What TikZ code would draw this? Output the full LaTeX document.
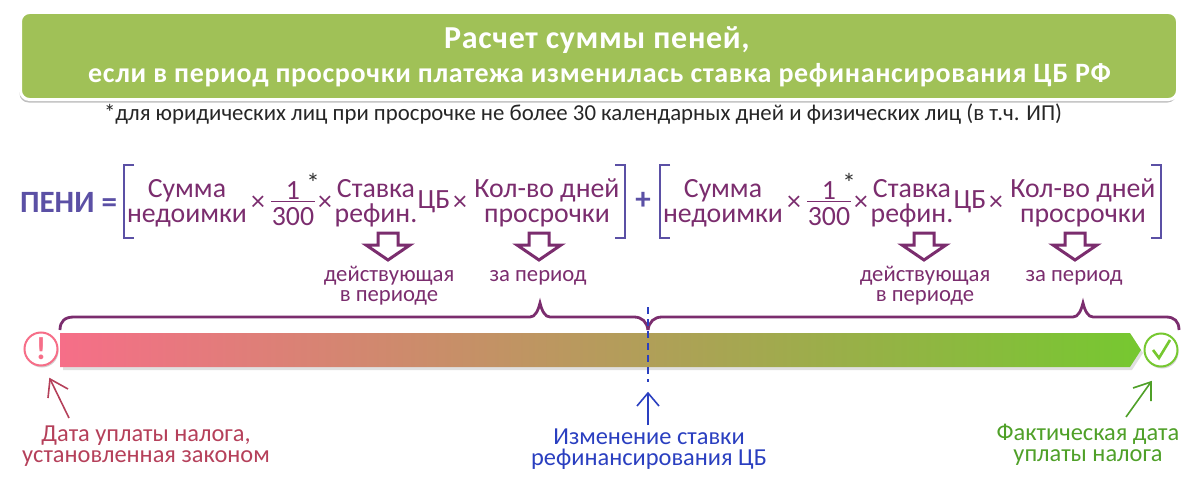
\documentclass[tikz,border=0pt]{standalone}
\usepackage{fontspec}
\setmainfont{Carlito}
\usetikzlibrary{shadows}
\definecolor{titlegreen}{RGB}{160,193,87}
\definecolor{formulapurple}{RGB}{123,45,110}
\definecolor{bracketblue}{RGB}{91,80,165}
\definecolor{startred}{RGB}{181,64,90}
\definecolor{changeblue}{RGB}{42,63,192}
\definecolor{endgreen}{RGB}{79,160,40}
\definecolor{barpink}{RGB}{246,110,136}
\definecolor{bargreen}{RGB}{118,200,48}
\tikzset{
  titleline/.style={text=white, inner sep=0pt},
  formula/.style={text=formulapurple, inner sep=0pt, align=center, font=\fontsize{27.8}{25}\selectfont},
  notetext/.style={text=formulapurple, inner sep=0pt, align=center, font=\fontsize{22.7}{20}\selectfont},
  datetext/.style={inner sep=0pt, align=center, font=\fontsize{24.4}{21.5}\selectfont},
  bracket/.style={draw=bracketblue, line width=1.8pt},
  bracelong/.style={draw=formulapurple, line width=2.8pt},
  downarrow/.style={draw=formulapurple, line width=3pt, fill=white, line join=miter},
  thinarrow/.style={line width=1.6pt},
  markcircle/.style={circle, fill=white, line width=2pt, minimum size=33pt, inner sep=0pt, drop shadow={opacity=0.35, shadow xshift=1pt, shadow yshift=-2pt}}
}
\begin{document}
\begin{tikzpicture}[x=1pt, y=-1pt]
  \useasboundingbox (0,0) rectangle (1200,487);

  % Заголовок
  \node[draw=white, line width=3pt, fill=titlegreen, rounded corners=9pt, minimum width=1157pt, minimum height=87pt,
        drop shadow={opacity=0.5, shadow xshift=-1pt, shadow yshift=-3pt}] (titlebox) at (599,56) {};
  \node[titleline, font=\fontsize{32}{32}\selectfont\bfseries\addfontfeature{LetterSpace=2.2}] (titleone) at (597,40) {Расчет суммы пеней,};
  \node[titleline, font=\fontsize{28}{28}\selectfont\bfseries\addfontfeature{LetterSpace=2.4}] (titletwo) at (599.5,75)
    {если в период просрочки платежа изменилась ставка рефинансирования ЦБ РФ};
  \node[text=black!85, inner sep=0pt, font=\fontsize{22.8}{22}\selectfont] (footnote) at (583,114)
    {*для юридических лиц при просрочке не более 30 календарных дней и физических лиц (в т.ч. ИП)};

  % Формула
  \node[text=bracketblue, inner sep=0pt, font=\fontsize{31}{31}\selectfont\bfseries] (peni) at (68.5,202) {ПЕНИ =};
  \node[text=bracketblue, inner sep=0pt, font=\fontsize{31}{31}\selectfont\bfseries] (plus) at (643,201) {+};

  \foreach \part/\dx in {a/0, b/536} {
    \begin{scope}[xshift=\dx pt]
      \draw[bracket] (134,165) -- (124,165) -- (124,238) -- (134,238);
      \draw[bracket] (615,165) -- (625,165) -- (625,238) -- (615,238);
      \node[formula] (summa\part) at (187,203) {Сумма\\недоимки};
      \node[formula] (timesa\part) at (258,203) {×};
      \node[formula] (one\part) at (293,191) {1};
      \node[formula] (hundreds\part) at (293,217) {300};
      \draw[formulapurple, line width=1.2pt] (271,201.5) -- (315,201.5);
      \node[text=black!80, inner sep=0pt, font=\fontsize{27}{27}\selectfont] (star\part) at (313,183) {*};
      \node[formula] (timesb\part) at (325,203) {×};
      \node[formula] (rate\part) at (376,203) {Ставка\\рефин.};
      \node[formula] (cb\part) at (434,202) {ЦБ};
      \node[formula] (timesc\part) at (460,203) {×};
      \node[formula] (days\part) at (547,203) {Кол-во дней\\просрочки};

      % Стрелки вниз
      \foreach \x in {388, 539} {
        \draw[downarrow] (\x-10,233) -- (\x+10,233) -- (\x+10,245) -- (\x+22,245) -- (\x,260) -- (\x-22,245) -- (\x-10,245) -- cycle;
      }
      \node[notetext] (ratenote\part) at (389,286) {действующая\\в периоде};
      \node[notetext] (daysnote\part) at (538,278) {за период};
    \end{scope}
  }

  % Фигурные скобки
  \draw[bracelong] (60,330) .. controls (60,321) and (65,317) .. (74,317) -- (530,317)
    .. controls (535,317) and (538,311) .. (540,303) .. controls (542,311) and (545,317) .. (550,317) -- (634,317)
    .. controls (642,317) and (647,322) .. (648,330);
  \draw[bracelong] (648,330) .. controls (649,322) and (654,317) .. (662,317) -- (1073,317)
    .. controls (1078,317) and (1081,311) .. (1083,303) .. controls (1085,311) and (1088,317) .. (1093,317) -- (1166,317)
    .. controls (1174,317) and (1179,321) .. (1179,330);

  % Шкала
  \fill[black, opacity=0.12] (63,336) -- (1132,336) -- (1143,353) -- (1132,370) -- (63,370) -- cycle;
  \shade[left color=barpink, right color=bargreen]
    (60,333) -- (1130,333) -- (1141,350) -- (1130,367) -- (60,367) -- cycle;

  \node[markcircle, draw=barpink, text=barpink, font=\fontsize{32}{32}\selectfont\bfseries] (startmark) at (41,349) {!};
  \node[markcircle, draw=bargreen] (endmark) at (1161,350) {};
  \draw[bargreen, line width=2.6pt] (1153,350) -- (1159,358) -- (1170,340);

  % Смена ставки
  \coordinate (changetop) at (648,307);
  \coordinate (changebot) at (648,382);
  \draw[changeblue, line width=1.6pt, dash pattern=on 7pt off 5pt] (changetop) -- (changebot);

  % Подписи дат
  \node[datetext, text=startred] (startlabel) at (146,446) {Дата уплаты налога,\\установленная законом};
  \node[datetext, text=changeblue] (changelabel) at (649,449) {Изменение ставки\\рефинансирования ЦБ};
  \node[datetext, text=endgreen] (endlabel) at (1088,445) {Фактическая дата\\уплаты налога};

  \coordinate (starttip) at (50,379);
  \coordinate (startfoot) at (69,418);
  \coordinate (changetip) at (648,393);
  \coordinate (changefoot) at (648,425);
  \coordinate (endtip) at (1151,382);
  \coordinate (endfoot) at (1126,417);
  \draw[thinarrow, startred] (startfoot) -- (starttip);
  \draw[thinarrow, startred] (48,398) -- (starttip) -- (68,389);
  \draw[thinarrow, changeblue] (changefoot) -- (changetip);
  \draw[thinarrow, changeblue] (637,406) -- (changetip) -- (659,406);
  \draw[thinarrow, endgreen] (endfoot) -- (endtip);
  \draw[thinarrow, endgreen] (1133,388) -- (endtip) -- (1151,401);
\end{tikzpicture}
\end{document}
